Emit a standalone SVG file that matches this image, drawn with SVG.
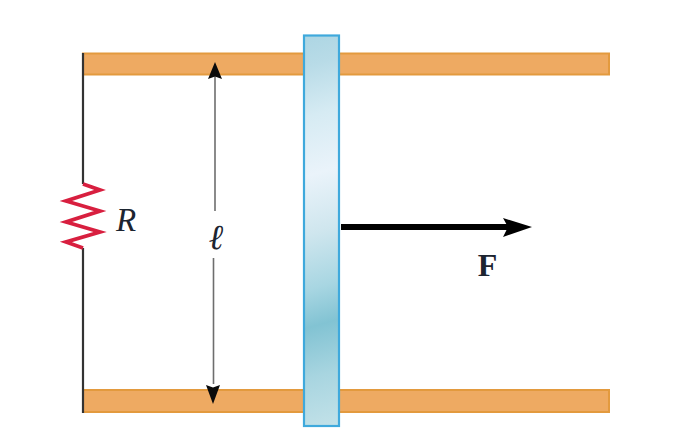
<svg xmlns="http://www.w3.org/2000/svg" width="700" height="446" viewBox="0 0 700 446">
<style>
.rail{fill:#eeaa62;stroke:#e39a3e;stroke-width:2}
.wire{fill:none;stroke:#333;stroke-width:2.200}
.dim{fill:none;stroke:#6e6e6e;stroke-width:1.600}
.tip{fill:#0a0a0a}
.serif{font-family:"Liberation Serif","Times New Roman",serif;fill:#1c2430}
</style>
<defs>
<linearGradient id="bar" gradientUnits="userSpaceOnUse" x1="265" y1="36" x2="378" y2="426">
<stop offset="0" stop-color="#a9d4e2"/>
<stop offset="0.1" stop-color="#b8dbe7"/>
<stop offset="0.22" stop-color="#d6ebf3"/>
<stop offset="0.36" stop-color="#eaf3fa"/>
<stop offset="0.5" stop-color="#cfe6ee"/>
<stop offset="0.63" stop-color="#a8d6e2"/>
<stop offset="0.72" stop-color="#82c3d3"/>
<stop offset="0.84" stop-color="#a8d5e0"/>
<stop offset="1" stop-color="#c8e4ea"/>
</linearGradient>
</defs>
<rect width="700" height="446" fill="#fff"/>
<g id="rail-top"><rect class="rail" x="83" y="53.500" width="526" height="21"/></g>
<g id="rail-bottom"><rect class="rail" x="83" y="390" width="526" height="22"/></g>
<g id="connectors">
<path class="wire" d="M83 53V184M83 248V413"/>
<path class="dim" d="M215 76V211M213.500 258V384"/>
<path class="tip" d="M215 62L222 79L215 76.500L208 79Z"/>
<path class="tip" d="M213 404L206 385L213 387.500L220 385Z"/>
<path fill="none" stroke="#000" stroke-width="6" d="M341 227H510"/>
<path fill="#000" d="M532 227L503 218L508 227L503 237Z"/>
</g>
<g id="resistor"><path fill="none" stroke="#d81f3f" stroke-width="3.800" stroke-linejoin="miter" d="M83 184L100 190L66 201L100 211L66 222L100 232L66 242L83 248"/></g>
<g id="label-R"><text class="serif" x="116" y="231" font-size="33" font-style="italic">R</text></g>
<g id="label-l"><text class="serif" x="216" y="249" font-size="35" font-style="italic" text-anchor="middle">ℓ</text></g>
<g id="bar-node"><rect x="304" y="35.500" width="35" height="390.500" fill="url(#bar)" stroke="#3fa9dc" stroke-width="2.200"/></g>
<g id="label-F"><text class="serif" x="487.500" y="276" font-size="32" font-weight="bold" text-anchor="middle">F</text></g>
</svg>
